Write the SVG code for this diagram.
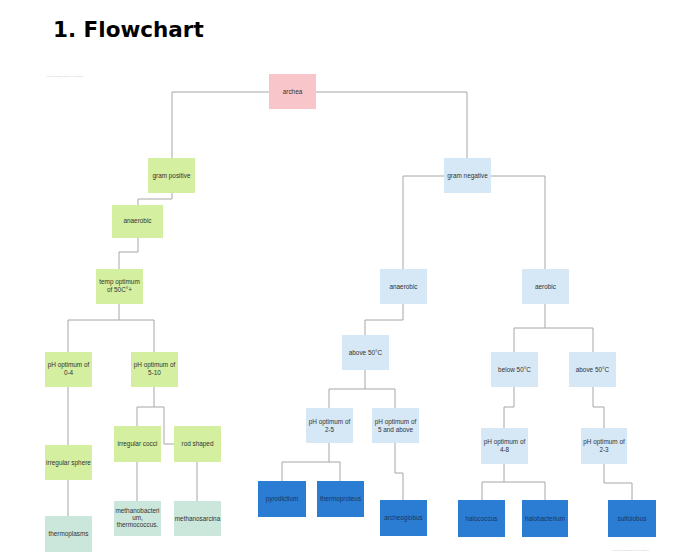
<svg xmlns="http://www.w3.org/2000/svg" width="700" height="560" viewBox="0 0 700 560">
<style>
  .t { font-family: "Liberation Sans", Arial, sans-serif; font-size: 6.4px; fill: #333333; text-anchor: middle; }
  .tb { font-family: "Liberation Sans", Arial, sans-serif; font-size: 6.4px; fill: #17365f; text-anchor: middle; }
  .pink { fill: #f8c5ca; }
  .green { fill: #d3ef9f; }
  .lblue { fill: #d6e8f6; }
  .teal { fill: #cbe7dc; }
  .blue { fill: #2b7dd3; }
  .wm { font-family: "Liberation Sans", Arial, sans-serif; font-size: 2.3px; fill: #c8c8c8; }
  #connectors path { fill: none; stroke: #a6a6a6; stroke-width: 1; }
</style>
<rect width="700" height="560" fill="#ffffff"/>
<text x="53" y="37" font-family="'DejaVu Sans', Verdana, sans-serif" font-weight="bold" font-size="21.5" fill="#000">1. Flowchart</text>
<text class="wm" x="46" y="77">Visual Paradigm Online Free Edition</text>
<text class="wm" x="612" y="551">Visual Paradigm Online Free Edition</text>

<g id="connectors">
  <path d="M269 92 H172 V158"/>
  <path d="M316 92 H467 V158"/>
  <path d="M172 193 V199 H138 V205"/>
  <path d="M138 238 V252 H119 V269"/>
  <path d="M119 304 V320"/>
  <path d="M68 352 V320 H154 V352"/>
  <path d="M68 387 V445"/>
  <path d="M68 480 V516"/>
  <path d="M154 387 V407"/>
  <path d="M137 426 V407 H164 V444 H174"/>
  <path d="M137 462 V501"/>
  <path d="M197 462 V501"/>
  <path d="M444 176 H403 V269"/>
  <path d="M491 176 H545 V269"/>
  <path d="M403 304 V320 H365 V335"/>
  <path d="M365 370 V389"/>
  <path d="M329 408 V389 H395 V408"/>
  <path d="M329 443 V462"/>
  <path d="M282 481 V462 H340 V481"/>
  <path d="M395 443 V473 H403 V500"/>
  <path d="M545 304 V328"/>
  <path d="M514 352 V328 H593 V352"/>
  <path d="M514 387 V407 H504 V428"/>
  <path d="M593 387 V407 H604 V428"/>
  <path d="M504 464 V482"/>
  <path d="M482 500 V482 H545 V500"/>
  <path d="M604 464 V483 H632 V500"/>
</g>

<g id="archea"><rect class="pink" x="269" y="74" width="47" height="35"/><text class="t" x="292.5" y="94">archea</text></g>
<g id="gram-positive"><rect class="green" x="148" y="158" width="47" height="35"/><text class="t" x="171.5" y="178">gram positive</text></g>
<g id="anaerobic-left"><rect class="green" x="112" y="205" width="51" height="33"/><text class="t" x="137.5" y="223">anaerobic</text></g>
<g id="temp-optimum"><rect class="green" x="96" y="269" width="47" height="35"/><text class="t" x="119.5" y="284">temp optimum</text><text class="t" x="119.5" y="292">of 50C°+</text></g>
<g id="ph-0-4"><rect class="green" x="45" y="352" width="47" height="35"/><text class="t" x="68.5" y="367">pH optimum of</text><text class="t" x="68.5" y="375">0-4</text></g>
<g id="ph-5-10"><rect class="green" x="131" y="352" width="47" height="35"/><text class="t" x="154.5" y="367">pH optimum of</text><text class="t" x="154.5" y="375">5-10</text></g>
<g id="irregular-sphere"><rect class="green" x="45" y="445" width="47" height="35"/><text class="t" x="68.5" y="465">irregular sphere</text></g>
<g id="thermoplasms"><rect class="teal" x="45" y="516" width="47" height="36"/><text class="t" x="68.5" y="536">thermoplasms</text></g>
<g id="irregular-cocci"><rect class="green" x="114" y="426" width="47" height="36"/><text class="t" x="137.5" y="446">irregular cocci</text></g>
<g id="rod-shaped"><rect class="green" x="174" y="426" width="47" height="36"/><text class="t" x="197.5" y="446">rod shaped</text></g>
<g id="methanobacterium"><rect class="teal" x="114" y="501" width="47" height="35"/><text class="t" x="137.5" y="513">methanobacteri</text><text class="t" x="137.5" y="520">um,</text><text class="t" x="137.5" y="527">thermococcus.</text></g>
<g id="methanosarcina"><rect class="teal" x="174" y="501" width="47" height="35"/><text class="t" x="197.5" y="521">methanosarcina</text></g>

<g id="gram-negative"><rect class="lblue" x="444" y="158" width="47" height="35"/><text class="t" x="467.5" y="178">gram negative</text></g>
<g id="anaerobic-right"><rect class="lblue" x="380" y="269" width="47" height="35"/><text class="t" x="403.5" y="289">anaerobic</text></g>
<g id="above-50-left"><rect class="lblue" x="342" y="335" width="47" height="35"/><text class="t" x="365.5" y="355">above 50°C</text></g>
<g id="ph-2-5"><rect class="lblue" x="306" y="408" width="47" height="35"/><text class="t" x="329.5" y="424">pH optimum of</text><text class="t" x="329.5" y="432">2-5</text></g>
<g id="ph-5-above"><rect class="lblue" x="372" y="408" width="47" height="35"/><text class="t" x="395.5" y="424">pH optimum of</text><text class="t" x="395.5" y="432">5 and above</text></g>
<g id="pyrodictium"><rect class="blue" x="258" y="481" width="48" height="36"/><text class="tb" x="282" y="501">pyrodictium</text></g>
<g id="thermoproteus"><rect class="blue" x="317" y="481" width="47" height="36"/><text class="tb" x="340.5" y="501">thermoproteus</text></g>
<g id="archeoglobus"><rect class="blue" x="380" y="500" width="47" height="36"/><text class="tb" x="403.5" y="520">archeoglobus</text></g>

<g id="aerobic"><rect class="lblue" x="522" y="269" width="47" height="35"/><text class="t" x="545.5" y="289">aerobic</text></g>
<g id="below-50"><rect class="lblue" x="491" y="352" width="47" height="35"/><text class="t" x="514.5" y="372">below 50°C</text></g>
<g id="above-50-right"><rect class="lblue" x="569" y="352" width="47" height="35"/><text class="t" x="592.5" y="372">above 50°C</text></g>
<g id="ph-4-8"><rect class="lblue" x="481" y="428" width="47" height="36"/><text class="t" x="504.5" y="444">pH optimum of</text><text class="t" x="504.5" y="452">4-8</text></g>
<g id="ph-2-3"><rect class="lblue" x="581" y="428" width="46" height="36"/><text class="t" x="604" y="444">pH optimum of</text><text class="t" x="604" y="452">2-3</text></g>
<g id="halococcus"><rect class="blue" x="458" y="500" width="47" height="37"/><text class="tb" x="481.5" y="521">halococcus</text></g>
<g id="halobacterium"><rect class="blue" x="522" y="500" width="46" height="37"/><text class="tb" x="545" y="521">halobacterium</text></g>
<g id="sulfolobus"><rect class="blue" x="608" y="500" width="48" height="37"/><text class="tb" x="632" y="521">sulfolobus</text></g>
</svg>
